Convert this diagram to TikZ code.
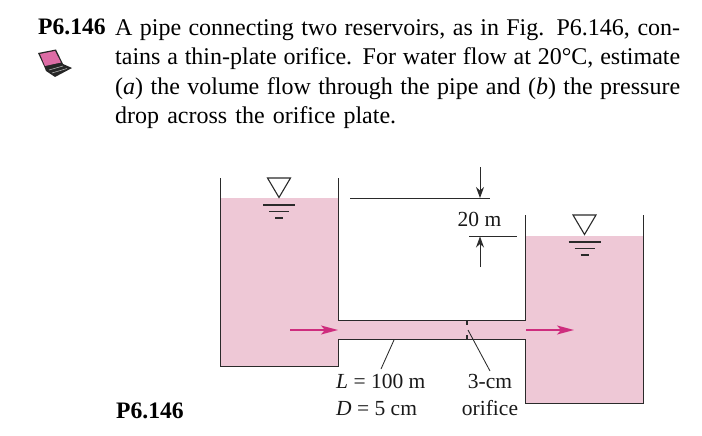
\documentclass[tikz,border=0pt]{standalone}
\usepackage{fontspec}
\setmainfont{Liberation Serif}
\usetikzlibrary{arrows.meta}
\definecolor{waterpink}{HTML}{EEC8D6}
\definecolor{flowpink}{HTML}{CE2D7E}
\definecolor{wallgray}{HTML}{2A2A2A}
\tikzset{
  wall/.style={draw=wallgray,line width=1pt},
  thinline/.style={draw=wallgray,line width=0.85pt},
  dimarrow/.style={thinline,-{Stealth[length=11pt,width=8pt]}},
  flowarrow/.style={draw=flowpink,line width=1.8pt,-{Stealth[length=17pt,width=9pt,inset=4pt]}},
  label/.style={font=\fontsize{21.5}{26}\selectfont,inner sep=0pt,text=black!90},
  level mark/.style={draw=wallgray,line width=1.1pt},
}
\begin{document}
\begin{tikzpicture}[x=1pt,y=-1pt]
\useasboundingbox (0,0) rectangle (702,436);
% water
\fill[waterpink] (220,198) -- (338,198) -- (338,320.5) -- (525,320.5) -- (525,236) -- (643,236)
  -- (643,403) -- (525,403) -- (525,339.5) -- (338,339.5) -- (338,366) -- (220,366) -- cycle;
% reservoirs and pipe
\draw[wall] (220,178) -- (220,366) -- (338,366) -- (338,339.5) -- (525,339.5) -- (525,403) -- (643,403) -- (643,215);
\draw[wall] (338,178) -- (338,320.5) -- (525,320.5) -- (525,215);
% free surface marks
\foreach \cx/\cy in {279/178, 584.5/215} {
  \draw[level mark,line join=miter] (\cx-11.5,\cy) -- (\cx+11.5,\cy) -- (\cx,\cy+19.5) -- cycle;
  \draw[level mark] (\cx-16,\cy+27) -- (\cx+16,\cy+27);
  \draw[level mark] (\cx-10,\cy+33.5) -- (\cx+10,\cy+33.5);
  \draw[level mark] (\cx-4,\cy+40) -- (\cx+4,\cy+40);
}
% orifice
\draw[line width=1.5pt,wallgray] (467,320) -- (467,324.5);
\draw[line width=1.5pt,wallgray] (467,335) -- (467,339.5);
% 20 m
\coordinate (uppertop) at (480,167);
\coordinate (upperlevel) at (480,198);
\coordinate (lowertop) at (480,267);
\coordinate (lowerlevel) at (480,236.5);
\draw[thinline] (350,198.5) -- (490,198.5);
\draw[thinline] (469,236.5) -- (517,236.5);
\draw[dimarrow] (uppertop) -- (upperlevel);
\draw[dimarrow] (lowertop) -- (lowerlevel);
\node[label] (head) at (479.5,219) {20 m};
% flow
\coordinate (inflowa) at (290,330);
\coordinate (inflowb) at (338,330);
\coordinate (outflowa) at (526,330);
\coordinate (outflowb) at (574,330);
\draw[flowarrow] (inflowa) -- (inflowb);
\draw[flowarrow] (outflowa) -- (outflowb);
% labels
\node[label,anchor=base west] (length) at (336,388) {\textit{L} = 100 m};
\node[label,anchor=base west] (diam) at (336,415) {\textit{D} = 5 cm};
\node[label,anchor=base] (orifa) at (490,388) {3-cm};
\node[label,anchor=base] (orifb) at (490,415) {orifice};
\coordinate (pipewall) at (394,340);
\coordinate (pipeend) at (381,369);
\coordinate (orifpoint) at (468,330);
\coordinate (orifend) at (490,371);
\draw[thinline] (pipewall) -- (pipeend);
\draw[thinline] (orifpoint) -- (orifend);
% problem text
\node[anchor=base west,inner sep=0pt,font=\fontsize{23.6}{29}\selectfont\bfseries] (num) at (38,35) {P6.146};
\node[anchor=north west,inner sep=0pt,align=left,font=\fontsize{24}{29.3}\selectfont] (prob) at (115,19.5)
  {\hbox to 565pt{A pipe connecting two reservoirs, as in Fig. P6.146, con-}\\
   \hbox to 565pt{tains a thin-plate orifice. For water flow at 20°C, estimate}\\
   \hbox to 565pt{(\textit{a}) the volume flow through the pipe and (\textit{b}) the pressure}\\
   \hbox to 281pt{drop across the orifice plate.}};
\node[anchor=base west,inner sep=0pt,font=\fontsize{23.6}{29}\selectfont\bfseries] (figname) at (116,418) {P6.146};
% laptop
\fill[black!85] (38,53) -- (56,49.5) -- (63,64) -- (72,68) -- (55,77) -- (46,71) -- (44,66) -- cycle;
\fill[flowpink!70!white] (40,54) -- (55,51) -- (61,62.5) -- (45,66) -- cycle;
\draw[white!70!black,line width=.6pt] (49,70) -- (63,66);
\draw[white!70!black,line width=.6pt] (52,73) -- (67,68.5);
\end{tikzpicture}
\end{document}
